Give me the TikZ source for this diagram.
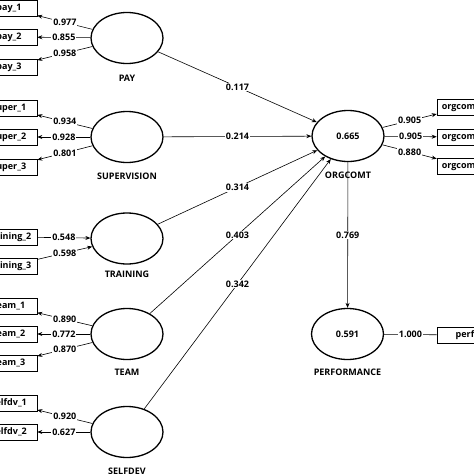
\documentclass[tikz,border=0pt]{standalone}
\usepackage{fontspec}
\setmainfont{Open Sans}
\usetikzlibrary{shapes.geometric,arrows.meta}
\begin{document}
\begin{tikzpicture}[x=1pt,y=-1pt,
  font=\bfseries\fontsize{9}{10}\selectfont,
  lat/.style={ellipse, draw, line width=1.3pt, minimum width=72pt, minimum height=51pt, inner sep=0pt},
  ind/.style={draw, line width=0.6pt, minimum height=16pt, minimum width=56pt, inner sep=2pt},
  lab/.style={fill=white, inner sep=1pt},
  arr/.style={-{Stealth[length=5pt,width=4pt]}, line width=0.6pt},
  ln/.style={line width=0.6pt}]
\useasboundingbox (0,0) rectangle (474,474);
\clip (0,0) rectangle (474,474);
% latent variables
\node[lat] (pay) at (127,38) {};
\node (payl) at (127,78) {PAY};
\node[lat] (sup) at (127,137) {};
\node (supl) at (127,176) {SUPERVISION};
\node[lat] (tra) at (127,238.5) {};
\node (tral) at (127,274) {TRAINING};
\node[lat] (team) at (127,334) {};
\node (teaml) at (127,372) {TEAM};
\node[lat] (self) at (127,432) {};
\node (selfl) at (127,471) {SELFDEV};
\node[lat] (org) at (348,136) {0.665};
\node (orgl) at (348,175) {ORGCOMT};
\node[lat] (perf) at (347.5,334) {0.591};
\node (perfl) at (347.5,372) {PERFORMANCE};
% left indicators
\node[ind] (p1) at (9,8.5) {pay\_1};
\node[ind] (p2) at (9,37) {pay\_2};
\node[ind] (p3) at (9,67) {pay\_3};
\node[ind] (s1) at (9,108) {super\_1};
\node[ind] (s2) at (9,137) {super\_2};
\node[ind] (s3) at (9,167) {super\_3};
\node[ind] (t2) at (9,237) {training\_2};
\node[ind] (t3) at (9,266) {training\_3};
\node[ind] (m1) at (9,306) {team\_1};
\node[ind] (m2) at (9,334) {team\_2};
\node[ind] (m3) at (9,363) {team\_3};
\node[ind] (d1) at (9,403) {selfdv\_1};
\node[ind] (d2) at (9,432) {selfdv\_2};
% right indicators
\node[ind] (o1) at (465,107) {orgcomt\_1};
\node[ind] (o2) at (465,137) {orgcomt\_2};
\node[ind] (o3) at (465,166) {orgcomt\_3};
\node[ind] (pf) at (465,335) {perf};
% measurement
\draw[arr] (pay) -- node[lab]{0.977} (p1);
\draw[arr] (pay) -- node[lab]{0.855} (p2);
\draw[arr] (pay) -- node[lab]{0.958} (p3);
\draw[arr] (sup) -- node[lab]{0.934} (s1);
\draw[arr] (sup) -- node[lab]{0.928} (s2);
\draw[arr] (sup) -- node[lab]{0.801} (s3);
\draw[arr] (t2) -- node[lab]{0.548} (tra);
\draw[arr] (t3) -- node[lab]{0.598} (tra);
\draw[arr] (team) -- node[lab]{0.890} (m1);
\draw[arr] (team) -- node[lab]{0.772} (m2);
\draw[arr] (team) -- node[lab]{0.870} (m3);
\draw[arr] (self) -- node[lab]{0.920} (d1);
\draw[arr] (self) -- node[lab]{0.627} (d2);
\draw[arr] (org) -- node[lab]{0.905} (o1);
\draw[arr] (org) -- node[lab]{0.905} (o2);
\draw[arr] (org) -- node[lab]{0.880} (o3);
\draw[ln] (perf) -- node[lab]{1.000} (pf);
% structural
\draw[arr] (pay) -- node[lab]{0.117} (org);
\draw[arr] (sup) -- node[lab]{0.214} (org);
\draw[arr] (tra) -- node[lab]{0.314} (org);
\draw[arr] (team) -- node[lab]{0.403} (org);
\draw[arr] (self) -- node[lab]{0.342} (org);
\draw[arr] (org) -- node[lab]{0.769} (perf);
\end{tikzpicture}
\end{document}
